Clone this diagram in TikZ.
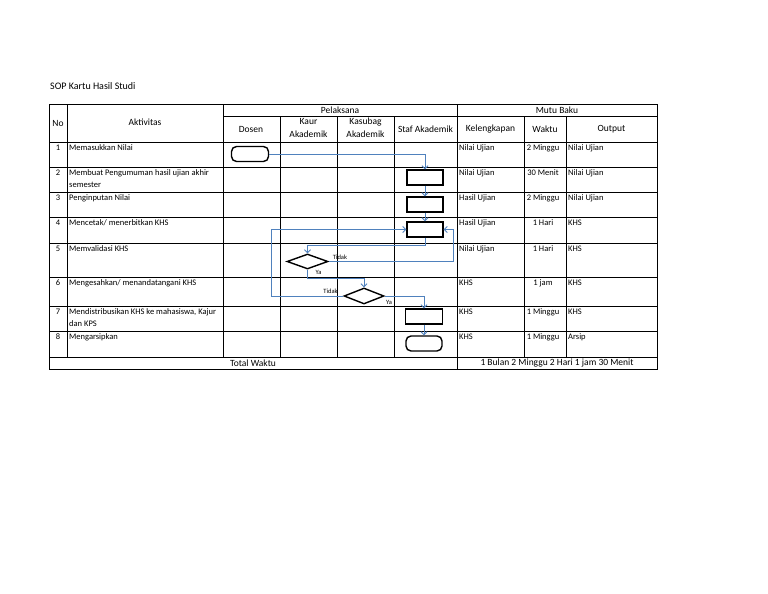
\documentclass[tikz,border=0pt]{standalone}
\usepackage{fontspec}
\setmainfont{Carlito}
\usetikzlibrary{arrows.meta,shapes.geometric}
\definecolor{flowblue}{RGB}{79,129,189}
\newcommand{\rowstrut}{\rule{0pt}{7pt}}
\begin{document}
\begin{tikzpicture}[x=1pt,y=-1pt,
  grid/.style={line width=1pt, draw=black},
  shp/.style={draw=black, line width=1.4pt, inner sep=0pt},
  procbox/.style={shp, rectangle, minimum width=36pt, minimum height=15pt},
  termbox/.style={shp, rectangle, rounded corners=5pt, minimum width=37pt, minimum height=15pt},
  decbox/.style={shp, diamond, minimum width=41pt, minimum height=15pt},
  flow/.style={draw=flowblue, line width=0.9pt, -{Straight Barb[length=3pt,width=6pt]}},
  flowlabel/.style={font=\fontsize{6.5}{7}\selectfont, inner sep=0pt},
  ttl/.style={font=\fontsize{10}{12}\selectfont, inner sep=0pt},
  hdr/.style={font=\fontsize{9.5}{13}\selectfont, inner sep=0pt, align=center},
  body/.style={font=\fontsize{8.5}{11.5}\selectfont, inner sep=0pt, anchor=north west, align=left},
  bodyc/.style={font=\fontsize{8.5}{11.5}\selectfont, inner sep=0pt, anchor=north},
]
\useasboundingbox (0,0) rectangle (768,594);
\fill[white] (0,0) rectangle (768,594);

% title
\node[ttl, anchor=west] (title) at (50,86) {SOP Kartu Hasil Studi};

% table grid
\draw[grid] (49,104) rectangle (657,369);
\draw[grid] (223,116) -- (657,116);
\draw[grid] (49,142) -- (657,142);
\foreach \y in {167,192,217,243,277,306,331,357} \draw[grid] (49,\y) -- (657,\y);
\draw[grid] (67,104) -- (67,357);
\draw[grid] (223,104) -- (223,357);
\foreach \x in {280,337,394,524,566} \draw[grid] (\x,116) -- (\x,357);
\draw[grid] (457,104) -- (457,369);

% header
\node[hdr] (hNo) at (58,123) {No};
\node[hdr] (hAkt) at (145,122) {Aktivitas};
\node[hdr] (hPel) at (340,110) {Pelaksana};
\node[hdr] (hMutu) at (557,110) {Mutu Baku};
\node[hdr] (hDos) at (251,129.5) {Dosen};
\node[hdr] (hKaur) at (308.5,128) {Kaur\\Akademik};
\node[hdr] (hKas) at (365.5,127.5) {Kasubag\\Akademik};
\node[hdr] (hStaf) at (425.5,129) {Staf Akademik};
\node[hdr] (hKel) at (490.5,129) {Kelengkapan};
\node[hdr] (hWak) at (545,129) {Waktu};
\node[hdr] (hOut) at (611.5,129) {Output};

% rows
\foreach \n/\t/\txt/\kel/\wak/\outp in {
  1/142/{Memasukkan Nilai}/{Nilai Ujian}/{2 Minggu}/{Nilai Ujian},
  2/167/{Membuat Pengumuman hasil ujian akhir\\semester}/{Nilai Ujian}/{30 Menit}/{Nilai Ujian},
  3/192/{Penginputan Nilai}/{Hasil Ujian}/{2 Minggu}/{Nilai Ujian},
  4/217/{Mencetak/ menerbitkan KHS}/{Hasil Ujian}/{1 Hari}/{KHS},
  5/243/{Memvalidasi KHS}/{Nilai Ujian}/{1 Hari}/{KHS},
  6/277/{Mengesahkan/ menandatangani KHS}/{KHS}/{1 jam}/{KHS},
  7/306/{Mendistribusikan KHS ke mahasiswa, Kajur\\dan KPS}/{KHS}/{1 Minggu}/{KHS},
  8/331/{Mengarsipkan}/{KHS}/{1 Minggu}/{Arsip}}{
  \node[bodyc] (no\n) at (58,\t+1.5) {\rowstrut\n};
  \node[body] (akt\n) at (69,\t+1.5) {\rowstrut\txt};
  \node[body] (kel\n) at (459,\t+1.5) {\rowstrut\kel};
  \node[bodyc] (wak\n) at (543,\t+1.5) {\rowstrut\wak};
  \node[body] (out\n) at (568,\t+1.5) {\rowstrut\outp};
}

% total row
\node[hdr] (totL) at (253,363) {Total Waktu};
\node[hdr] (totR) at (557,363) {1 Bulan 2 Minggu 2 Hari 1 jam 30 Menit};

% flowchart shapes
\node[termbox] (t1) at (250,154) {};
\node[procbox] (p2) at (425,177.5) {};
\node[procbox] (p3) at (425,204.5) {};
\node[procbox] (p4) at (425,229.5) {};
\node[decbox] (d5) at (307.5,261.5) {};
\node[decbox, minimum width=40pt, minimum height=16pt] (d6) at (364,296) {};
\node[procbox, minimum width=37pt] (p7) at (424,316.5) {};
\node[termbox, minimum width=36pt] (t8) at (424,343.5) {};

% connectors
\draw[flow] (t1.east) -| (p2.north);
\draw[flow] (p2) -- (p3);
\draw[flow] (p3) -- (p4);
\draw[flow] (p4.south) -- ++(0,8) -| (d5.north);
\draw[flow] (d5.east) -| ([xshift=10pt]p4.east) -- (p4.east);
\draw[flow] (d5.south) -- ++(0,9) -| (d6.north);
\draw[flow] (d6.west) -| ([xshift=-135pt]p4.west) -- (p4.west);
\draw[flow] (d6.east) -| (p7.north);
\draw[flow] (p7) -- (t8);

% flow labels
\node[flowlabel] (lt1) at (340,257) {Tidak};
\node[flowlabel] (ly1) at (318.5,272.5) {Ya};
\node[flowlabel] (lt2) at (330.5,291) {Tidak};
\node[flowlabel] (ly2) at (389,302) {Ya};
\end{tikzpicture}
\end{document}
